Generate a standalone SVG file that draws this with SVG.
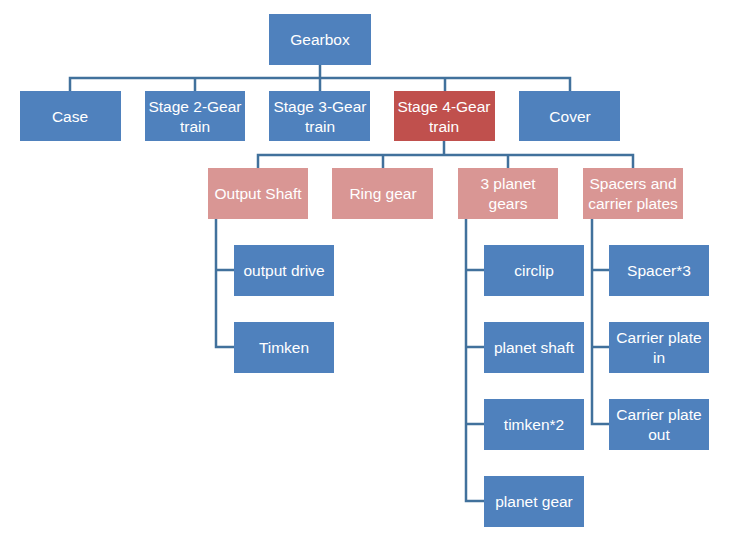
<svg xmlns="http://www.w3.org/2000/svg" width="735" height="549" viewBox="0 0 735 549">
<style>
.b{fill:#4F81BD}.r{fill:#C0504D}.p{fill:#D99694}
text{font-family:"Liberation Sans",Arial,sans-serif;font-size:15.5px;fill:#fff;text-anchor:middle}
.c{fill:none;stroke:#41719C;stroke-width:2.5}
</style>
<rect width="735" height="549" fill="#fff"/>
<g id="connectors" class="c">
<path d="M320 65V78M70 91V78H570V91M195 78V91M320 78V91M445 78V91"/>
<path d="M444 141V155M258 168V155H633V168M383 155V168M508 155V168"/>
<path d="M216 219V347H234M216 270H234"/>
<path d="M466 219V501H484M466 270H484M466 347H484M466 424H484"/>
<path d="M592 219V424H609M592 270H609M592 347H609"/>
</g>
<g id="gearbox"><rect class="b" x="269" y="14" width="102" height="51"/><text x="320" y="45">Gearbox</text></g>
<g id="case"><rect class="b" x="20" y="91" width="101" height="50"/><text x="70" y="122">Case</text></g>
<g id="stage2"><rect class="b" x="145" y="91" width="100" height="50"/><text x="195" y="112">Stage 2-Gear</text><text x="195" y="132">train</text></g>
<g id="stage3"><rect class="b" x="269" y="91" width="101" height="50"/><text x="320" y="112">Stage 3-Gear</text><text x="320" y="132">train</text></g>
<g id="stage4"><rect class="r" x="394" y="91" width="101" height="50"/><text x="444" y="112">Stage 4-Gear</text><text x="444" y="132">train</text></g>
<g id="cover"><rect class="b" x="519" y="91" width="101" height="50"/><text x="570" y="122">Cover</text></g>
<g id="outputshaft"><rect class="p" x="208" y="168" width="100" height="51"/><text x="258" y="199">Output Shaft</text></g>
<g id="ringgear"><rect class="p" x="332" y="168" width="101" height="51"/><text x="383" y="199">Ring gear</text></g>
<g id="planetgears"><rect class="p" x="458" y="168" width="100" height="51"/><text x="508" y="189">3 planet</text><text x="508" y="209">gears</text></g>
<g id="spacers"><rect class="p" x="583" y="168" width="100" height="51"/><text x="633" y="189">Spacers and</text><text x="633" y="209">carrier plates</text></g>
<g id="outputdrive"><rect class="b" x="234" y="245" width="100" height="51"/><text x="284" y="276">output drive</text></g>
<g id="timken"><rect class="b" x="234" y="322" width="100" height="51"/><text x="284" y="353">Timken</text></g>
<g id="circlip"><rect class="b" x="484" y="245" width="100" height="51"/><text x="534" y="276">circlip</text></g>
<g id="planetshaft"><rect class="b" x="484" y="322" width="100" height="51"/><text x="534" y="353">planet shaft</text></g>
<g id="timken2"><rect class="b" x="484" y="399" width="100" height="51"/><text x="534" y="430">timken*2</text></g>
<g id="planetgear"><rect class="b" x="484" y="476" width="100" height="51"/><text x="534" y="507">planet gear</text></g>
<g id="spacer3"><rect class="b" x="609" y="245" width="100" height="51"/><text x="659" y="276">Spacer*3</text></g>
<g id="carrierin"><rect class="b" x="609" y="322" width="100" height="51"/><text x="659" y="343">Carrier plate</text><text x="659" y="363">in</text></g>
<g id="carrierout"><rect class="b" x="609" y="399" width="100" height="51"/><text x="659" y="420">Carrier plate</text><text x="659" y="440">out</text></g>
</svg>
